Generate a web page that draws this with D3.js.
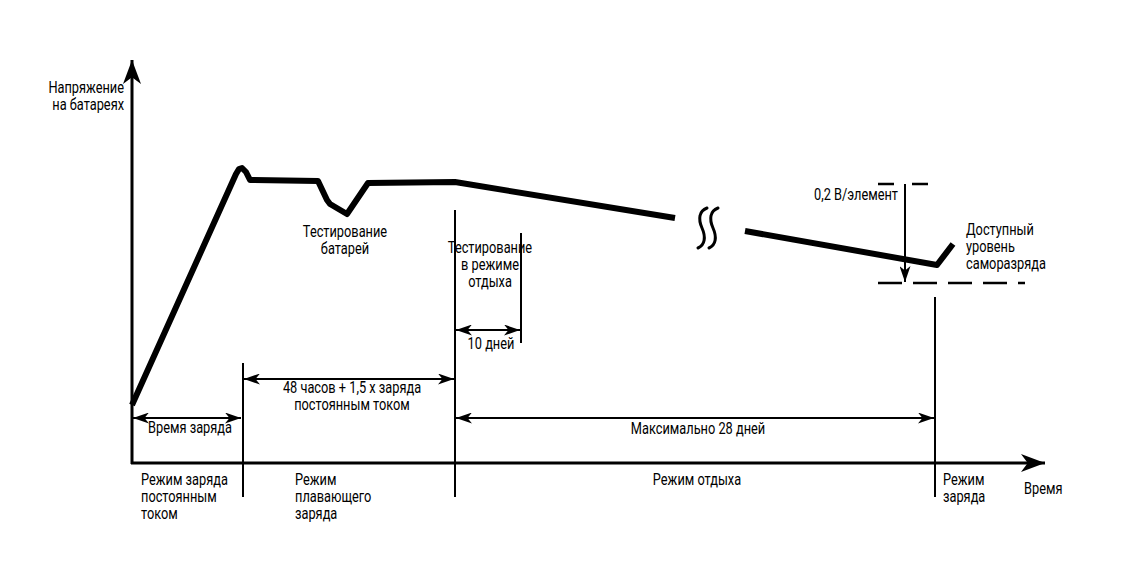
<!DOCTYPE html>
<html>
<head>
<meta charset="utf-8">
<script src="https://cdn.jsdelivr.net/npm/d3@7"></script>
<style>
  body { margin: 0; background: #fff; }
  text { font-family: Roboto, "Liberation Sans", sans-serif; font-size: 16px; fill: #000; }
</style>
</head>
<body>
<div id="chart"></div>
<script>
// Diagram units: time along x, voltage along y (origin at the axes crossing)
const curveA = [[0, 58], [104, 289], [107, 294], [110, 295], [114, 291], [118, 283], [186, 282], [195, 263], [198, 259], [215, 249], [236, 280], [323, 281], [543, 245]];
const curveB = [[613, 232], [805, 198], [821, 219]];
const breakX = [570, 581];
const dividers = [
    { t: 111, top: 100, bottom: -34 },
    { t: 323, top: 253, bottom: -34 },
    { t: 389, top: 230, bottom: 120 },
    { t: 803, top: 166, bottom: -34 }
];
const spans = [
    { from: 0, to: 110, v: 45, label: ["Время заряда"], ty: 30 },
    { from: 111, to: 323, v: 84, label: ["48 часов + 1,5 x заряда", "постоянным током"], ty: 70 },
    { from: 323, to: 389, v: 133, label: ["10 дней"], ty: 114 },
    { from: 323, to: 803, v: 45, label: ["Максимально 28 дней"], ty: 29 }
];
const modes = [
    { t: 9, anchor: "start", lines: ["Режим заряда", "постоянным", "током"] },
    { t: 163, anchor: "start", lines: ["Режим", "плавающего", "заряда"] },
    { t: 565, anchor: "middle", lines: ["Режим отдыха"] },
    { t: 811, anchor: "start", lines: ["Режим", "заряда"] }
];
const notes = [
    { t: 213, v: 226, anchor: "middle", lines: ["Тестирование", "батарей"] },
    { t: 358, v: 210, anchor: "middle", lines: ["Тестирование", "в режиме", "отдыха"] },
    { t: 766, v: 263, anchor: "end", lines: ["0,2 В/элемент"] },
    { t: 834, v: 228, anchor: "start", lines: ["Доступный", "уровень", "саморазряда"] }
];
const dropTop = 279, dropBottom = 180, dropX = 773;
const dashTop = [746, 805], dashBottom = [746, 893];

const W = 1142, H = 576;
const x = d3.scaleLinear().domain([0, 913]).range([132, 1045]);
const y = d3.scaleLinear().domain([0, 403]).range([463, 60]);

const svg = d3.select("#chart").append("svg")
    .attr("width", W).attr("height", H);

// condensed label helper
function label(px, py, s, anchor) {
    svg.append("text")
        .attr("transform", `translate(${px},${py}) scale(0.8,1)`)
        .attr("text-anchor", anchor || "start")
        .text(s);
}

const defs = svg.append("defs");
function marker(id, w, h, rev) {
    defs.append("marker")
        .attr("id", id)
        .attr("viewBox", `0 0 ${w} ${h}`)
        .attr("refX", rev ? 0 : w).attr("refY", h / 2)
        .attr("markerWidth", w).attr("markerHeight", h)
        .attr("markerUnits", "userSpaceOnUse")
        .attr("orient", "auto")
        .append("path")
        .attr("d", rev ? `M${w},0L0,${h / 2}L${w},${h}L${w * 0.72},${h / 2}Z` : `M0,0L${w},${h / 2}L0,${h}L${w * 0.28},${h / 2}Z`)
        .attr("fill", "#000");
}
marker("bigArrow", 24, 18, false);
marker("arrEnd", 16, 11, false);
marker("arrStart", 16, 11, true);

// axes
svg.append("line")
    .attr("x1", x(0)).attr("y1", y(0) + 1).attr("x2", x(0)).attr("y2", y(403))
    .attr("stroke", "#000").attr("stroke-width", 3).attr("marker-end", "url(#bigArrow)");
svg.append("line")
    .attr("x1", x(0) - 1).attr("y1", y(0)).attr("x2", x(913)).attr("y2", y(0))
    .attr("stroke", "#000").attr("stroke-width", 3).attr("marker-end", "url(#bigArrow)");

label(x(0) - 8, y(370), "Напряжение", "end");
label(x(0) - 8, y(353), "на батареях", "end");
label(x(892), y(-31), "Время");

// voltage curve
const line = d3.line().x(d => x(d[0])).y(d => y(d[1])).curve(d3.curveLinear);
[curveA, curveB].forEach(c => {
    svg.append("path").attr("d", line(c))
        .attr("fill", "none").attr("stroke", "#000").attr("stroke-width", 6)
        .attr("stroke-linejoin", "round").attr("stroke-linecap", "butt");
});

// break marks
breakX.forEach(t => {
    const cx = x(t);
    svg.append("path")
        .attr("d", `M${cx + 5},${y(255)} C${cx - 3},${y(252)} ${cx - 4},${y(244)} ${cx},${y(235)} C${cx + 4},${y(226)} ${cx + 3},${y(218)} ${cx - 4},${y(215)}`)
        .attr("fill", "none").attr("stroke", "#000").attr("stroke-width", 3).attr("stroke-linecap", "round");
});

// dividers
svg.selectAll(".div").data(dividers).enter().append("line")
    .attr("x1", d => x(d.t)).attr("x2", d => x(d.t))
    .attr("y1", d => y(d.top)).attr("y2", d => y(d.bottom))
    .attr("stroke", "#000").attr("stroke-width", 2);

// span arrows
svg.selectAll(".span").data(spans).enter().append("line")
    .attr("x1", d => x(d.from) + 1).attr("x2", d => x(d.to) - 1)
    .attr("y1", d => y(d.v)).attr("y2", d => y(d.v))
    .attr("stroke", "#000").attr("stroke-width", 2)
    .attr("marker-start", "url(#arrStart)").attr("marker-end", "url(#arrEnd)");
spans.forEach(d => {
    d.label.forEach((s, i) => label((x(d.from) + x(d.to)) / 2 + 3, y(d.ty) + i * 17, s, "middle"));
});

// mode labels under axis
modes.forEach(d => {
    d.lines.forEach((s, i) => label(x(d.t), y(-22) + i * 17, s, d.anchor));
});

// notes
notes.forEach(d => {
    d.lines.forEach((s, i) => label(x(d.t), y(d.v) + i * 17, s, d.anchor));
});

// self-discharge level
svg.append("line").attr("x1", x(dashTop[0])).attr("x2", x(dashTop[1]))
    .attr("y1", y(dropTop)).attr("y2", y(dropTop))
    .attr("stroke", "#000").attr("stroke-width", 2.5).attr("stroke-dasharray", "16,18");
svg.append("line").attr("x1", x(dashBottom[0])).attr("x2", x(dashBottom[1]))
    .attr("y1", y(dropBottom)).attr("y2", y(dropBottom))
    .attr("stroke", "#000").attr("stroke-width", 2.5).attr("stroke-dasharray", "24,11");
svg.append("line").attr("x1", x(dropX)).attr("x2", x(dropX))
    .attr("y1", y(dropTop)).attr("y2", y(dropBottom) - 1)
    .attr("stroke", "#000").attr("stroke-width", 2).attr("marker-end", "url(#arrEnd)");
</script>
</body>
</html>
